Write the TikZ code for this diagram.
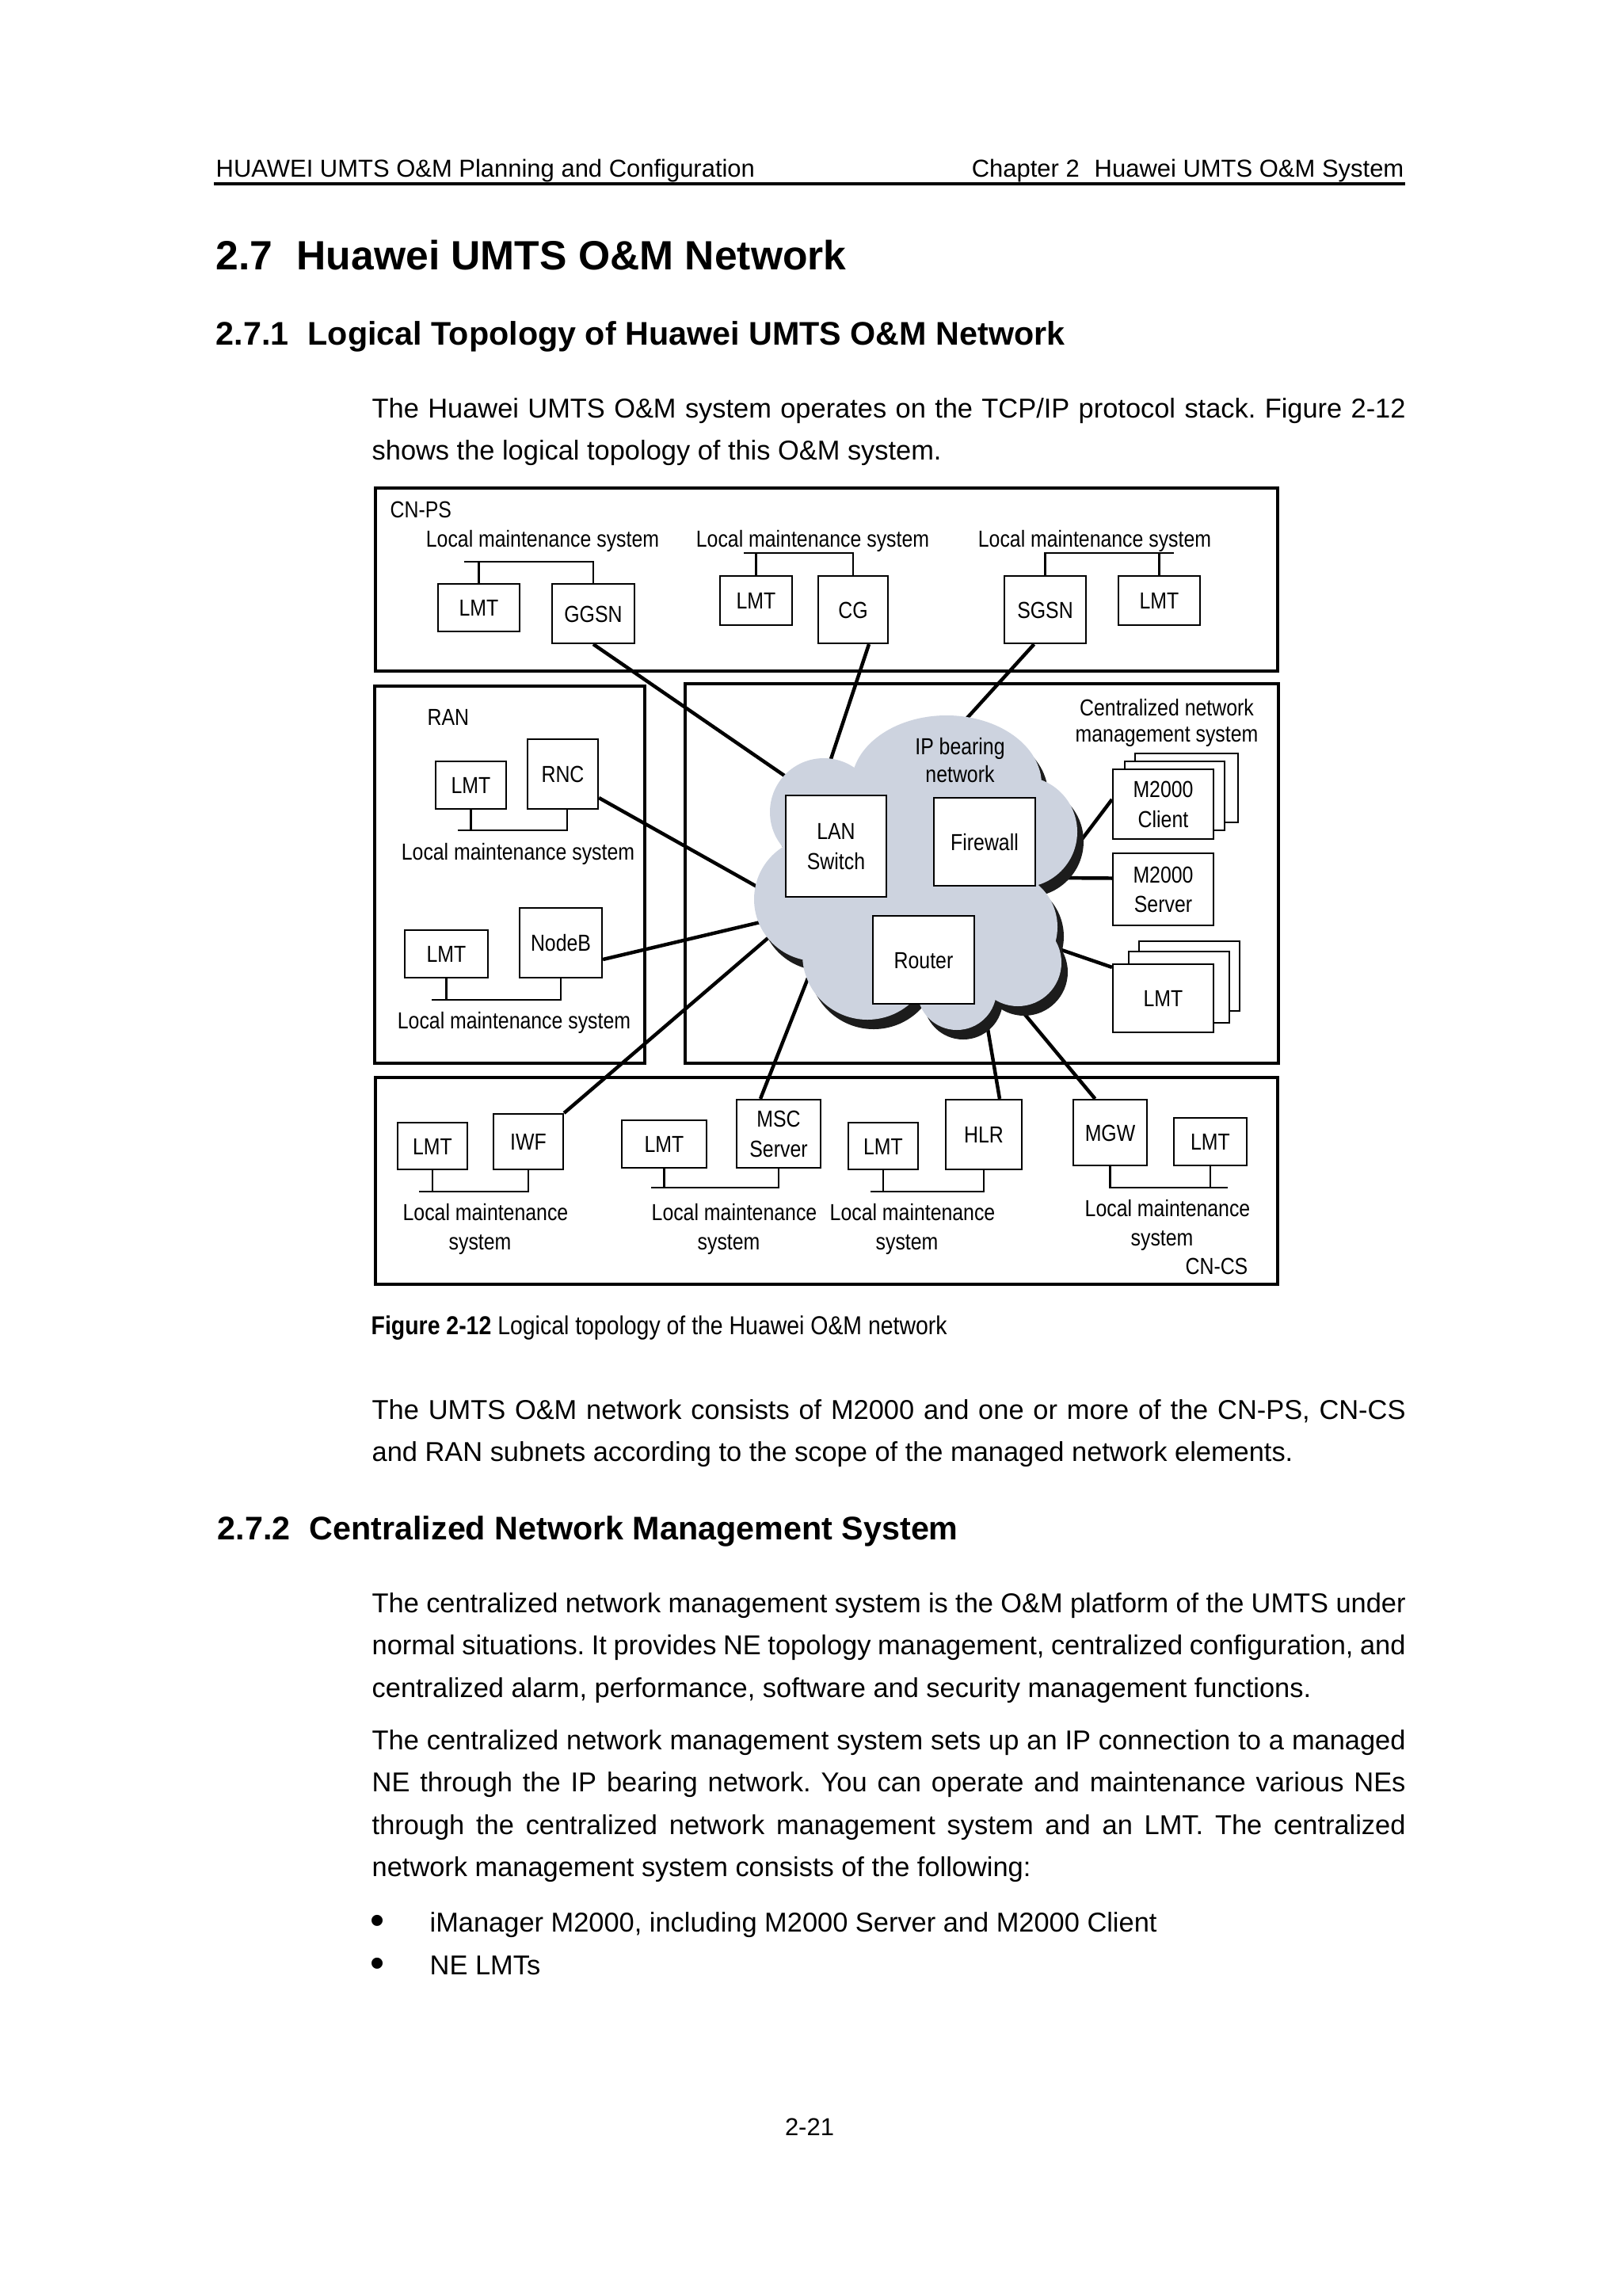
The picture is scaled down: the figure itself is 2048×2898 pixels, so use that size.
\documentclass[tikz,border=0pt]{standalone}
\usepackage{fontspec}
\setmainfont{Liberation Sans}
\newfontfamily\dgf[FakeStretch=0.85]{Liberation Sans}
\newfontfamily\capf[FakeStretch=0.87]{Liberation Sans}
\usetikzlibrary{calc,fit}
\definecolor{cloudc}{RGB}{205,211,223}
\definecolor{shadowc}{RGB}{28,28,28}
\newcommand\dgfont{\dgf\fontsize{8.5}{11}\selectfont}
\newcommand\bodyfont{\fontsize{10}{12}\selectfont}
\newcommand\jline[1]{\makebox[379.3pt][s]{#1}}
\newcommand\onel[1]{\raisebox{-3.05pt}[0pt][0pt]{#1}}
\newcommand\twol[2]{\raisebox{2.45pt}[0pt][0pt]{\begin{tabular}[t]{@{}c@{}}#1\\#2\end{tabular}}}
\frenchspacing
\begin{document}
\frenchspacing
\begin{tikzpicture}[x=0.29066pt,y=-0.29066pt,
  dev/.style={draw, line width=0.65pt, fill=white, inner sep=0pt, font=\dgfont},
  devbox/.style={draw, line width=0.65pt, fill=white},
  outerframe/.style={draw, line width=0.9pt},
  bus/.style={line width=0.65pt},
  conn/.style={line width=1.3pt},
  lbl/.style={inner sep=0pt, font=\dgfont},
  body/.style={inner sep=0pt, anchor=base west, font=\bodyfont\frenchspacing},
  hd/.style={inner sep=0pt, anchor=base west, font=\fontsize{9}{11}\selectfont}]
\useasboundingbox (0,0) rectangle (2048,2898);
\fill[white] (0,0) rectangle (2048,2898);

% header
\node[hd] (hl) at (272,223) {HUAWEI UMTS O\&M Planning and Configuration};
\node[hd, anchor=base east] (hr) at (1773,223) {Chapter 2\hspace{5.5pt}Huawei UMTS O\&M System};
\draw[line width=1.2pt] (270,232) -- (1774,232);

% headings
\node[inner sep=0pt, anchor=base west, font=\fontsize{15}{18}\selectfont\bfseries] (h1n) at (272,340) {2.7};
\node[inner sep=0pt, anchor=base west, font=\fontsize{15}{18}\selectfont\bfseries] (h1t) at (374,340) {Huawei UMTS O\&M Network};
\node[inner sep=0pt, anchor=base west, font=\fontsize{12}{14}\selectfont\bfseries] (h2n) at (272,435) {2.7.1};
\node[inner sep=0pt, anchor=base west, font=\fontsize{12}{14}\selectfont\bfseries] (h2t) at (388,435) {Logical Topology of Huawei UMTS O\&M Network};

\node[body] (p1a) at (469,527) {\jline{The Huawei UMTS O\&M system operates on the TCP/IP protocol stack. Figure 2-12}};
\node[body] (p1b) at (469,580) {shows the logical topology of this O\&M system.};

% ---------------- diagram frames
\draw[outerframe] (474,616) rectangle (1613,847);
\draw[outerframe] (473,866) rectangle (814,1342);
\draw[outerframe] (865,863) rectangle (1614,1342);
\draw[outerframe] (474,1360) rectangle (1613,1621);

% CN-PS
\node[lbl, anchor=base west] (cnps) at (492,653) {CN-PS};
\node[lbl, anchor=base] (lmsA) at (685,690) {Local maintenance system};
\node[lbl, anchor=base] (lmsB) at (1026,690) {Local maintenance system};
\node[lbl, anchor=base] (lmsC) at (1382,690) {Local maintenance system};
\node[dev, fit={(553,737) (656,797)}] (lmtA) {\onel{LMT}};
\node[dev, fit={(697,737) (801,812)}] (ggsn) {\onel{GGSN}};
\node[dev, fit={(909,727) (1000,789)}] (lmtB) {\onel{LMT}};
\node[dev, fit={(1033,727) (1121,812)}] (cg) {\onel{CG}};
\node[dev, fit={(1268,727) (1371,812)}] (sgsn) {\onel{SGSN}};
\node[dev, fit={(1412,727) (1515,789)}] (lmtC) {\onel{LMT}};
\coordinate (busA) at (586,709);
\draw[bus] (busA) -- (ggsn.north |- busA) -- (ggsn.north);
\draw[bus] (lmtA.north |- busA) -- (lmtA.north);
\coordinate (busB) at (939,698);
\draw[bus] (busB) -- (cg.north |- busB) -- (cg.north);
\draw[bus] (lmtB.north |- busB) -- (lmtB.north);
\coordinate (busC) at (1482,698);
\draw[bus] (sgsn.north) -- (sgsn.north |- busC) -- (busC);
\draw[bus] (lmtC.north |- busC) -- (lmtC.north);

% RAN
\node[lbl, anchor=base west] (ran) at (539,915) {RAN};
\node[dev, fit={(550,961) (639,1021)}] (lmtD) {\onel{LMT}};
\node[dev, fit={(666,933) (755,1021)}] (rnc) {\onel{RNC}};
\node[dev, fit={(511,1174) (616,1234)}] (lmtE) {\onel{LMT}};
\node[dev, fit={(656,1146) (760,1234)}] (nodeb) {\onel{NodeB}};
\node[lbl, anchor=base] (lmsD) at (654,1085) {Local maintenance system};
\node[lbl, anchor=base] (lmsE) at (649,1298) {Local maintenance system};
\coordinate (busD) at (578,1048);
\coordinate (busDe) at (716,1048);
\draw[bus] (busD) -- (busDe) -- (busDe |- rnc.south);
\draw[bus] (lmtD.south) -- (lmtD.south |- busD);
\coordinate (busE) at (545,1262);
\draw[bus] (busE) -- (nodeb.south |- busE) -- (nodeb.south);
\draw[bus] (lmtE.south) -- (lmtE.south |- busE);

% CN-CS
\node[dev, fit={(502,1417) (590,1476)}] (lmtF) {\onel{LMT}};
\node[dev, fit={(623,1406) (711,1476)}] (iwf) {\onel{IWF}};
\node[dev, fit={(785,1414) (892,1474)}] (lmtG) {\onel{LMT}};
\node[dev, fit={(930,1388) (1036,1474)}] (msc) {\twol{MSC}{Server}};
\node[dev, fit={(1071,1417) (1159,1476)}] (lmtH) {\onel{LMT}};
\node[dev, fit={(1194,1388) (1290,1476)}] (hlr) {\onel{HLR}};
\node[dev, fit={(1355,1388) (1448,1471)}] (mgw) {\onel{MGW}};
\node[dev, fit={(1482,1411) (1574,1471)}] (lmtI) {\onel{LMT}};
\coordinate (busF) at (529,1504);
\draw[bus] (busF) -- (iwf.south |- busF) -- (iwf.south);
\draw[bus] (lmtF.south) -- (lmtF.south |- busF);
\coordinate (busG) at (822,1499);
\draw[bus] (busG) -- (msc.south |- busG) -- (msc.south);
\draw[bus] (lmtG.south) -- (lmtG.south |- busG);
\coordinate (busH) at (1099,1504);
\draw[bus] (busH) -- (hlr.south |- busH) -- (hlr.south);
\draw[bus] (lmtH.south) -- (lmtH.south |- busH);
\coordinate (busI) at (1550,1499);
\draw[bus] (mgw.south) -- (mgw.south |- busI) -- (busI);
\draw[bus] (lmtI.south) -- (lmtI.south |- busI);
\node[lbl, anchor=base] (lmsF1) at (613,1540) {Local maintenance};
\node[lbl, anchor=base] (lmsF2) at (606,1577) {system};
\node[lbl, anchor=base] (lmsG1) at (927,1540) {Local maintenance};
\node[lbl, anchor=base] (lmsG2) at (920,1577) {system};
\node[lbl, anchor=base] (lmsH1) at (1152,1540) {Local maintenance};
\node[lbl, anchor=base] (lmsH2) at (1145,1577) {system};
\node[lbl, anchor=base] (lmsI1) at (1474,1535) {Local maintenance};
\node[lbl, anchor=base] (lmsI2) at (1467,1572) {system};
\node[lbl, anchor=base east] (cncs) at (1576,1608) {CN-CS};

% centralized NMS
\node[lbl, anchor=base] (cnm1) at (1473,903) {Centralized network};
\node[lbl, anchor=base] (cnm2) at (1473,936) {management system};
\draw[devbox] (1433,951) rectangle (1563,1038);
\draw[devbox] (1420,961) rectangle (1546,1048);
\node[dev, fit={(1405,971) (1532,1059)}] (client) {\twol{M2000}{Client}};
\node[dev, fit={(1405,1077) (1532,1168)}] (server) {\twol{M2000}{Server}};
\draw[devbox] (1438,1188) rectangle (1565,1276);
\draw[devbox] (1425,1201) rectangle (1552,1291);
\node[dev, fit={(1405,1217) (1532,1303)}] (lmtJ) {\onel{LMT}};

% connectors into the cloud
\coordinate (eGGSN) at (1018,998);
\coordinate (eCG) at (1043,976);
\coordinate (eSGSN) at (1213,915);
\coordinate (eRNC) at (975,1130);
\coordinate (eNodeB) at (981,1159);
\coordinate (eIWF) at (987,1169);
\coordinate (eMSC) at (1034,1199);
\coordinate (eHLR) at (1243,1275);
\coordinate (eMGW) at (1271,1253);
\coordinate (eClient) at (1345,1087);
\coordinate (eServer) at (1328,1108);
\coordinate (eLMT) at (1311,1189);
\draw[conn] (ggsn.south) -- (eGGSN);
\draw[conn] ($(cg.south)+(20,0)$) -- (eCG);
\draw[conn] ($(sgsn.south)+(-14,0)$) -- (eSGSN);
\draw[conn] ($(rnc.east)+(0,30)$) -- (eRNC);
\draw[conn] ($(nodeb.east)+(0,21)$) -- (eNodeB);
\draw[conn] (iwf.north east) -- (eIWF);
\draw[conn] ($(msc.north)+(-23,0)$) -- (eMSC);
\draw[conn] ($(hlr.north)+(20,0)$) -- (eHLR);
\draw[conn] ($(mgw.north)+(-19,0)$) -- (eMGW);
\draw[conn] ($(client.west)+(0,-6)$) -- (eClient);
\draw[conn] ($(server.west)+(0,-14)$) -- (eServer);
\draw[conn] ($(lmtJ.north west)+(0,5)$) -- (eLMT);

% cloud: shadow then body
\begin{scope}[shift={(8,12)}]
\fill[shadowc] (1040,1025) circle[radius=68] (1195,990) ellipse[x radius=120, y radius=87]
  (1290,1050) circle[radius=70] (1265,1170) circle[radius=70] (1285,1215) circle[radius=55]
  (1208,1250) circle[radius=50] (1095,1205) circle[radius=82] (1030,1135) circle[radius=78]
  (1150,1110) circle[radius=120];
\end{scope}
\fill[cloudc] (1040,1025) circle[radius=68] (1195,990) ellipse[x radius=120, y radius=87]
  (1290,1050) circle[radius=70] (1265,1170) circle[radius=70] (1285,1215) circle[radius=55]
  (1208,1250) circle[radius=50] (1095,1205) circle[radius=82] (1030,1135) circle[radius=78]
  (1150,1110) circle[radius=120];
\node[lbl, anchor=base] (ipb1) at (1212,952) {IP bearing};
\node[lbl, anchor=base] (ipb2) at (1212,987) {network};
\node[dev, fit={(992,1004) (1119,1132)}] (lan) {\twol{LAN}{Switch}};
\node[dev, fit={(1179,1007) (1307,1118)}] (fw) {\onel{Firewall}};
\node[dev, fit={(1102,1156) (1230,1267)}] (router) {\onel{Router}};

% caption
\node[inner sep=0pt, anchor=base west, font=\capf\fontsize{9.5}{11}\selectfont] (cap) at (468,1684) {\textbf{Figure 2-12} Logical topology of the Huawei O\&M network};

% lower text
\node[body] (p2a) at (469,1791) {\jline{The UMTS O\&M network consists of M2000 and one or more of the CN-PS, CN-CS}};
\node[body] (p2b) at (469,1844) {and RAN subnets according to the scope of the managed network elements.};
\node[inner sep=0pt, anchor=base west, font=\fontsize{12}{14}\selectfont\bfseries] (h3n) at (274,1943) {2.7.2};
\node[inner sep=0pt, anchor=base west, font=\fontsize{12}{14}\selectfont\bfseries] (h3t) at (390,1943) {Centralized Network Management System};
\node[body] (p3a) at (469,2035) {\jline{The centralized network management system is the O\&M platform of the UMTS under}};
\node[body] (p3b) at (469,2088) {\jline{normal situations. It provides NE topology management, centralized configuration, and}};
\node[body] (p3c) at (469,2142) {centralized alarm, performance, software and security management functions.};
\node[body] (p4a) at (469,2208) {\jline{The centralized network management system sets up an IP connection to a managed}};
\node[body] (p4b) at (469,2261) {\jline{NE through the IP bearing network. You can operate and maintenance various NEs}};
\node[body] (p4c) at (469,2315) {\jline{through the centralized network management system and an LMT. The centralized}};
\node[body] (p4d) at (469,2368) {network management system consists of the following:};
\node[inner sep=0pt, anchor=base, font=\fontsize{15}{16}\selectfont] (b1) at (477,2441) {\textbullet};
\node[body] (l1) at (542,2438) {iManager M2000, including M2000 Server and M2000 Client};
\node[inner sep=0pt, anchor=base, font=\fontsize{15}{16}\selectfont] (b2) at (477,2495) {\textbullet};
\node[body] (l2) at (542,2492) {NE LMTs};

\node[inner sep=0pt, anchor=base, font=\fontsize{9}{11}\selectfont] (pg) at (1022,2695) {2-21};
\end{tikzpicture}
\end{document}
